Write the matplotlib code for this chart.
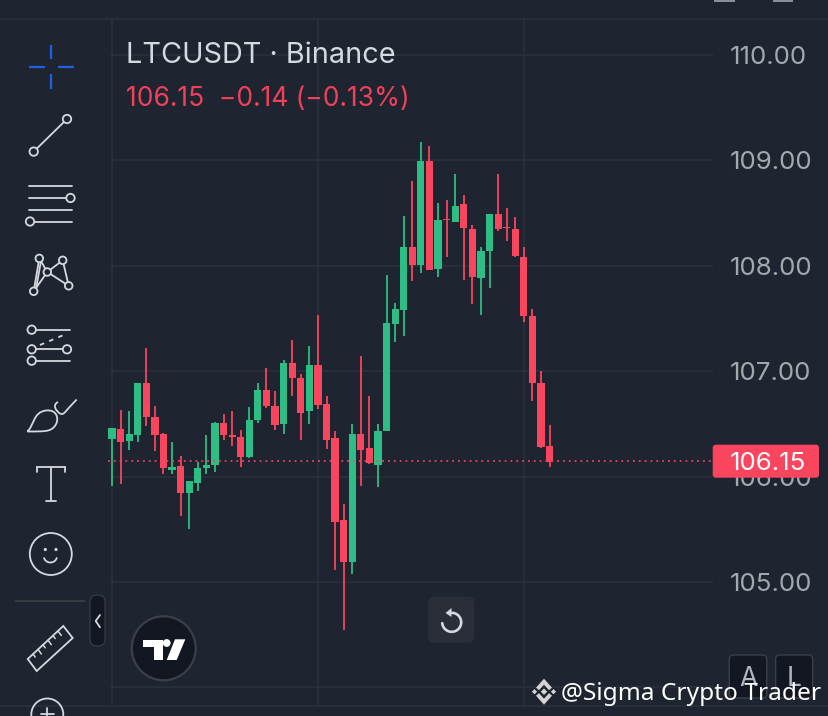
import matplotlib
matplotlib.use("Agg")
import matplotlib.pyplot as plt
import numpy as np
from matplotlib.patches import Circle, FancyBboxPatch, Polygon, PathPatch, Rectangle
from matplotlib.path import Path

# ---------- data ----------
open_ = [106.36,106.45,106.34,106.39,106.89,106.57,106.40,106.06,106.10,105.84,105.94,106.08,106.11,
         106.51,106.39,106.38,106.19,106.54,106.82,106.67,106.50,107.08,106.94,106.62,107.06,106.69,
         106.37,105.59,105.19,106.40,106.27,106.11,106.43,107.45,107.58,108.18,108.01,108.99,107.97,
         108.44,108.42,108.59,108.35,107.88,108.14,108.49,108.37,108.35,108.08,107.52,106.89,106.29]
high = [106.46,106.63,106.62,106.89,107.22,106.67,106.41,106.33,106.20,105.96,106.14,106.39,106.52,
        106.59,106.62,106.44,106.66,106.89,107.03,106.81,107.11,107.30,106.97,107.24,107.53,106.76,
        106.43,105.74,106.50,107.14,106.76,106.50,107.91,107.65,108.47,108.80,109.17,109.14,108.60,
        108.62,108.87,108.67,108.39,108.18,108.49,108.87,108.55,108.46,108.18,107.59,107.00,106.49]
low = [105.91,105.93,106.25,106.33,106.48,106.24,106.02,106.02,105.63,105.50,105.86,106.02,106.04,
       106.35,106.29,106.09,106.18,106.51,106.65,106.44,106.40,106.76,106.35,106.50,106.64,106.26,
       105.11,104.54,105.08,105.91,106.12,105.90,106.43,107.28,107.33,107.86,107.93,107.96,107.89,
       108.08,108.42,107.87,107.64,107.53,107.79,108.33,108.24,108.08,107.47,106.72,106.27,106.09]
close = [106.46,106.33,106.40,106.89,106.57,106.39,106.08,106.09,105.84,105.96,106.08,106.11,106.51,
         106.39,106.38,106.19,106.54,106.82,106.67,106.49,107.08,106.94,106.60,107.06,106.68,106.35,
         105.57,105.19,106.40,106.25,106.13,106.43,107.46,107.59,108.18,108.01,108.99,107.96,108.43,
         108.43,108.57,108.36,107.89,108.14,108.49,108.35,108.36,108.09,107.52,106.89,106.28,106.14]
price_ticks = [105, 106, 107, 108, 109, 110]
time_grid = [0, 24, 48]
last_price = 106.15
title = "LTCUSDT \u00b7 Binance"
quote = "106.15  \u22120.14 (\u22120.13%)"
watermark = "@Sigma Crypto Trader"

# ---------- style ----------
BG = "#1e2530"; GRID = "#2b323c"; UP = "#2ebd85"; DOWN = "#f9455e"
ICON = "#d5d8de"; LABEL = "#a3a7ae"; DARK = "#131722"; EDGE = "#3a3f4a"
W, H = 829, 716
X0, DX = 112.0, 8.58     # pixel of candle 0, pixels per candle
Y110, DY = 55.0, 105.4   # pixel of 110.00, pixels per price unit
px2i = lambda p: (p - X0) / DX

fig = plt.figure(figsize=(W / 100, H / 100), dpi=100, facecolor=BG)
ax = fig.add_axes([0, 0, 1, 1], facecolor=BG)
ax.set_xlim(px2i(0), px2i(W))
ax.set_ylim(110 - (H - Y110) / DY, 110 + Y110 / DY)
ax.axis("off")

idx = np.arange(len(open_))
o, h, l, c = map(np.array, (open_, high, low, close))
colors = [UP if cc >= oo else DOWN for oo, cc in zip(o, c)]

# grid
glw = 1.1
ax.hlines(price_ticks, px2i(110), px2i(713), color=GRID, lw=glw, zorder=1)
ax.hlines([110 - (687 - Y110) / DY], px2i(110), px2i(713), color=GRID, lw=glw, zorder=1)
ax.hlines([110 - (706 - Y110) / DY, 110 + (Y110 - 19) / DY], px2i(0), px2i(W), color=GRID, lw=glw, zorder=1)
ax.vlines(time_grid, 110 - (706 - Y110) / DY, 110 + (Y110 - 19) / DY, color=GRID, lw=glw, zorder=1)

# candles
ax.vlines(idx, l, h, color=colors, lw=1.3, zorder=3)
ax.bar(idx, np.abs(c - o), bottom=np.minimum(o, c), width=7.2 / DX, color=colors, lw=0, zorder=4)

# last price line
ax.plot([px2i(108), px2i(713)], [last_price, last_price], color=DOWN, lw=1.2,
        ls=(0, (1.1, 2.4)), zorder=5)

# price labels
for p in price_ticks:
    ax.annotate(f"{p:.2f}", xy=(px2i(729.5), p), xytext=(0, -6.5), textcoords="offset points",
                color=LABEL, fontsize=18.7, family="Inter", va="baseline", ha="left", zorder=2)

# ---------- interface overlay in pixels ----------
ui = fig.add_axes([0, 0, 1, 1], facecolor="none")
ui.set_xlim(0, W); ui.set_ylim(H, 0); ui.axis("off")

def line(xs, ys, color=ICON, lw=1.3, **kw):
    ui.plot(xs, ys, color=color, lw=lw, solid_capstyle=kw.pop("cap", "round"), **kw)
def ring(x, y, r=4.2, color=ICON, lw=1.3):
    ui.add_patch(Circle((x, y), r, fc=BG, ec=color, lw=lw, zorder=6))
def box(x0, y0, x1, y1, r, fc, ec="none", lw=1.0, z=7):
    ui.add_patch(FancyBboxPatch((x0 + r, y0 + r), x1 - x0 - 2 * r, y1 - y0 - 2 * r,
                                boxstyle=f"round,pad={r},rounding_size={r}", fc=fc, ec=ec, lw=lw, zorder=z))
def arc(cx, cy, rx, ry, t0, t1, **kw):
    t = np.radians(np.linspace(t0, t1, 60))
    line(cx + rx * np.cos(t), cy - ry * np.sin(t), **kw)

# crosshair
B = "#1f5fe6"
for xs, ys in [((29, 45), (66.7, 66.7)), ((58, 74), (66.7, 66.7)), ((51, 51), (45, 59)), ((51, 51), (74, 89))]:
    line(xs, ys, color=B, lw=1.6, cap="butt")
# trend line
line((33.7, 67), (151.6, 119)); ring(33.7, 151.6); ring(67, 119)
# fib lines
line((29, 72), (186.3, 186.3)); line((29, 68), (198, 198)); ring(70.5, 198)
line((29, 72), (210, 210)); line((32, 72), (221.5, 221.5)); ring(30, 221.5)
# pattern
nodes = {"a": (33.7, 291.3), "b": (39.3, 258.4), "c": (47.3, 272), "d": (62.7, 260.3), "e": (68.7, 285.8)}
for s in ["ab", "bc", "cd", "de", "ec", "ca"]:
    line((nodes[s[0]][0], nodes[s[1]][0]), (nodes[s[0]][1], nodes[s[1]][1]))
line((36, 41), (289, 261))
for n in nodes.values():
    ring(*n, r=3.8)
# forecast
line((32, 70), (329.7, 329.7)); ring(31.7, 329.7)
line((32, 67), (349.3, 349.3)); ring(31.7, 349.3); ring(67, 349.3)
line((32, 70), (360.7, 360.7)); ring(31.7, 360.7)
line((40, 66), (345, 334), ls=(0, (2.5, 3)))
# brush
C4 = Path.CURVE4
ui.add_patch(PathPatch(Path([(27.3, 431.5), (34, 426), (33, 412), (46, 410.5), (58, 409), (60, 421), (54, 427),
                             (50, 431.5), (45, 431.5), (27.3, 431.5)],
                            [Path.MOVETO, C4, C4, C4, C4, C4, C4, C4, C4, C4]),
                       fc="none", ec=ICON, lw=1.3))
ui.add_patch(PathPatch(Path([(58, 402), (52, 405), (56, 411), (60, 413.5), (64, 416), (66, 410), (76.7, 399.5)],
                            [Path.MOVETO, C4, C4, C4, C4, C4, C4]),
                       fc="none", ec=ICON, lw=1.3))
# text tool
line((37, 65.5), (467, 467)); line((37, 37), (467, 472)); line((65.5, 65.5), (467, 472))
line((51.3, 51.3), (467, 501)); line((46, 56), (501, 501))
# smiley
ui.add_patch(Circle((50.8, 554), 21, fc="none", ec=ICON, lw=1.3))
ui.add_patch(Circle((45.3, 549.5), 1.6, fc=ICON, ec="none"))
ui.add_patch(Circle((56, 549.5), 1.6, fc=ICON, ec="none"))
arc(50.4, 556.5, 6.5, 6, -165, -15)
# separator and collapse
line((15.5, 85), (601.4, 601.4), color="#3a3f46", lw=1.3, cap="butt")
box(90, 595, 105, 646, 7, DARK, EDGE, .8)
line((100, 95.7, 100), (615, 621, 627.3), lw=1.3, zorder=8)
# ruler
ui.add_patch(Polygon([(27.7, 659), (36.7, 671), (72.7, 638), (63.3, 626)], closed=True, fc="none", ec=ICON, lw=1.3))
for t, ln in zip(np.linspace(.15, .85, 6), [4, 6, 4, 6, 4, 6]):
    x = 27.7 + (63.3 - 27.7) * t; y = 659 + (626 - 659) * t
    line((x, x + .55 * ln), (y, y + .75 * ln), lw=1.1)
# plus circle
ui.add_patch(Circle((47.3, 714.5), 16, fc="none", ec=ICON, lw=1.3))
line((47.3, 47.3), (708, 716)); line((41, 54), (714, 714))
# top fragments
ui.add_patch(Rectangle((714, 0), 21, 1.5, fc="#8b8f97", ec="none"))
ui.add_patch(Rectangle((773, 0), 20, 2, fc="#8b8f97", ec="none"))

# logo
ui.add_patch(Circle((163.7, 648.3), 32, fc=DARK, ec=EDGE, lw=1.6, zorder=7))
ui.add_patch(Polygon([(143.3, 640), (162.7, 640), (162.7, 660), (154, 660), (154, 647.3), (143.3, 647.3)], fc="white", ec="none", zorder=8))
ui.add_patch(Circle((166.7, 643), 3.9, fc="white", ec="none", zorder=8))
ui.add_patch(Polygon([(175, 639.3), (185.3, 639.3), (176.7, 660), (166.7, 660)], fc="white", ec="none", zorder=8))

# reset button
box(428, 596.7, 474.3, 642.7, 6, "#2a2e39")
arc(451.7, 622.3, 9.5, 9.5, 90, -175, lw=1.9, zorder=8)
ui.add_patch(Polygon([(451.5, 608), (451.5, 617), (445.5, 613)], fc=ICON, ec="none", zorder=9))

# A L buttons
box(729.3, 655, 766.7, 698, 4, DARK, EDGE, 1.0)
box(775.7, 655, 812.7, 698, 4, DARK, EDGE, 1.0)
ui.text(748, 686, "A", color="#b2b5be", fontsize=19, family="Inter", ha="center", va="baseline", zorder=8)
ui.text(794, 686, "L", color="#b2b5be", fontsize=19, family="Inter", ha="center", va="baseline", zorder=8)

# price tag
box(712.7, 444.7, 819, 477.7, 3, DOWN)
ui.text(729.5, 470, "106.15", color="white", fontsize=18.7, family="Inter", ha="left", va="baseline", zorder=8)

# header
ui.text(126.5, 63, title, color="#d5d9e0", fontsize=20.8, family="Inter", ha="left", va="baseline", zorder=8)
ui.text(126.5, 106, quote, color="#f0405a", fontsize=19, family="Inter", ha="left", va="baseline", zorder=8)

# watermark
LG = "#d4d4d4"
cx, cy = 544, 691.7
for dx, dy, s in [(0, 0, 3.2), (-9.5, 0, 2.6), (9.5, 0, 2.6)]:
    ui.add_patch(Polygon([(cx + dx - s, cy + dy), (cx + dx, cy + dy - s), (cx + dx + s, cy + dy), (cx + dx, cy + dy + s)], fc=LG, ec="none", zorder=9))
ui.add_patch(Polygon([(cx - 8, cy - 4), (cx, cy - 13), (cx + 8, cy - 4), (cx + 5, cy - 1.5), (cx, cy - 7), (cx - 5, cy - 1.5)], fc=LG, ec="none", zorder=9))
ui.add_patch(Polygon([(cx - 8, cy + 4), (cx, cy + 13), (cx + 8, cy + 4), (cx + 5, cy + 1.5), (cx, cy + 7), (cx - 5, cy + 1.5)], fc=LG, ec="none", zorder=9))
ui.text(561, 700, watermark, color="white", fontsize=17.6, family="Noto Sans", ha="left", va="baseline", zorder=9)

fig.savefig("out.png", dpi=100, facecolor=BG)
